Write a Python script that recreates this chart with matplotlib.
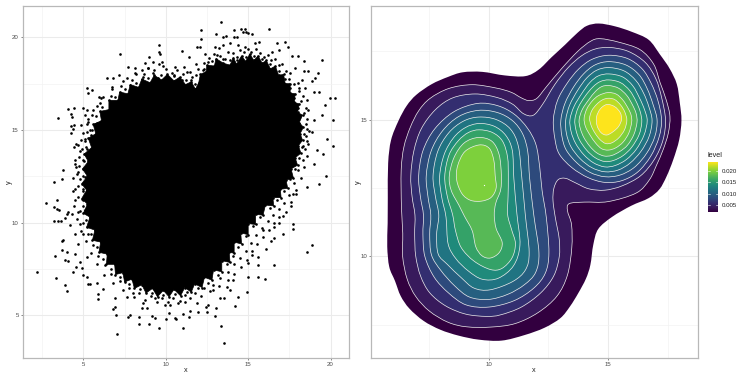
import numpy as np
import matplotlib
matplotlib.use('Agg')
import matplotlib.pyplot as plt
from matplotlib.path import Path
from matplotlib.patches import PathPatch, Polygon
from matplotlib.colors import LinearSegmentedColormap

plt.rcParams['font.family'] = ['Liberation Sans', 'DejaVu Sans']

# scatter: the solid black middle with its ragged edge, then the single points around it
core = [(13.9,18.5),(14.1,18.9),(14.3,18.55),(14.6,19.0),(14.85,18.7),(15.1,19.1),(15.35,18.75),(15.6,19.0),(15.85,18.6),(16.1,18.75),(16.35,18.3),(16.65,18.45),(16.85,17.95),(17.15,18.0),(17.25,17.5),(17.55,17.5),(17.55,17.0),(17.85,16.95),(17.8,16.5),(18.1,16.4),(18.0,15.95),(18.3,15.8),(18.1,15.4),(18.35,15.15),(18.15,14.8),(18.3,14.45),(18.05,14.15),(18.2,13.75),(17.85,13.5),(18.0,13.1),(17.6,12.9),(17.75,12.4),(17.3,12.3),(17.4,11.85),(16.95,11.8),(17.0,11.35),(16.5,11.35),(16.55,10.9),(16.05,10.95),(15.9,10.4),(15.45,10.45),(15.45,9.9),(15.0,9.95),(15.0,9.35),(14.55,9.45),(14.6,8.85),(14.15,8.95),(14.15,8.35),(13.85,8.4),(13.9,7.85),(13.4,7.95),(13.4,7.35),(12.9,7.45),(12.8,6.9),(12.35,7.05),(12.2,6.5),(11.75,6.7),(11.55,6.25),(11.15,6.5),(10.9,6.05),(10.5,6.4),(10.2,6.0),(9.85,6.35),(9.5,6.0),(9.2,6.45),(8.8,6.2),(8.55,6.65),(8.1,6.45),(7.95,6.95),(7.5,6.8),(7.4,7.3),(6.95,7.2),(6.9,7.75),(6.4,7.75),(6.45,8.3),(5.95,8.4),(6.05,8.95),(5.55,9.05),(5.7,9.6),(5.2,9.75),(5.4,10.3),(5.0,10.5),(5.25,11.0),(4.9,11.3),(5.2,11.75),(4.9,12.1),(5.25,12.5),(4.95,12.9),(5.3,13.3),(5.05,13.7),(5.5,14.05),(5.3,14.55),(5.75,14.8),(5.6,15.3),(6.1,15.5),(6.0,16.0),(6.55,16.1),(6.55,16.6),(7.1,16.6),(7.2,17.05),(7.7,16.95),(7.85,17.45),(8.35,17.3),(8.55,17.75),(9.05,17.55),(9.3,17.95),(9.75,17.7),(10.1,18.0),(10.5,17.65),(10.85,17.85),(11.2,17.45),(11.55,17.6),(11.8,17.2),(12.0,17.55),(12.1,18.0),(12.45,18.15),(12.5,18.5),(12.95,18.45),(13.05,18.85),(13.5,18.6)]

fringe = [(12.3,18.6),(12.6,18.9),(12.4,19.1),(12.9,19.1),(13.3,19.0),(13.6,18.85),(13.8,19.2),(14.1,19.15),(14.35,18.95),(14.5,19.3),(14.75,19.2),(15.0,19.35),(15.2,19.2),(15.45,19.35),(15.7,19.15),(15.95,18.95),(16.2,19.05),(16.4,18.75),(16.6,18.85),(16.85,18.5),(17.05,18.55),(17.3,18.2),(17.55,18.05),(17.5,17.75),(17.8,17.5),(18.0,17.55),(18.1,17.1),(18.3,16.85),(18.2,16.55),(18.5,16.2),(18.4,15.9),(18.6,15.6),(18.5,15.3),(18.7,14.95),(18.5,14.65),(18.6,14.4),(18.45,14.0),(18.55,13.6),(18.3,13.4),(18.4,13.0),(18.05,12.85),(18.2,12.4),(17.8,12.15),(17.9,11.75),(17.5,11.5),(17.6,11.1),(17.2,11.05),(17.3,10.6),(16.85,10.75),(16.9,10.3),(16.5,10.4),(16.55,10.0),(16.2,10.1),(16.25,9.6),(15.85,9.7),(15.9,9.2),(15.5,9.35),(15.55,8.85),(15.2,8.9),(15.25,8.45),(14.85,8.45),(14.9,8.0),(14.5,8.1),(14.55,7.6),(14.15,7.75),(14.15,7.25),(13.75,7.35),(13.75,6.9),(13.3,7.0),(13.25,6.6),(12.85,6.65),(12.7,6.3),(12.35,6.45),(12.15,6.05),(11.8,6.2),(11.5,5.95),(11.15,6.1),(10.85,5.75),(10.45,5.95),(10.15,5.7),(9.8,5.95),(9.45,5.7),(9.1,6.05),(8.75,5.85),(8.4,6.2),(8.05,6.0),(7.8,6.5),(7.4,6.35),(7.2,6.85),(6.8,6.75),(6.65,7.25),(6.25,7.2),(6.3,7.7),(5.85,7.75),(5.9,8.2),(5.45,8.35),(5.6,8.8),(5.15,9.0),(5.3,9.4),(4.85,9.55),(5.0,10.0),(4.6,10.2),(4.8,10.65),(4.45,10.9),(4.7,11.4),(4.35,11.7),(4.65,12.0),(4.35,12.4),(4.6,12.6),(4.75,13.05),(4.5,13.4),(4.8,13.85),(4.65,14.2),(5.1,14.4),(5.0,14.85),(5.4,15.0),(5.3,15.45),(5.75,15.75),(5.6,16.1),(6.15,16.25),(6.1,16.7),(6.65,16.85),(6.75,17.2),(7.3,17.35),(7.4,17.65),(7.95,17.7),(8.15,18.05),(8.65,18.0),(8.9,18.35),(9.3,18.25),(9.6,18.55),(10.0,18.3),(10.4,18.1),(10.7,18.25),(11.05,18.0),(11.3,18.15),(11.6,17.85),(11.85,17.95)]

edge_pts = [(14.3,18.8),(14.85,18.95),(15.35,19.0),(15.85,18.85),(16.35,18.55),(16.85,18.2),(17.25,17.75),(17.55,17.25),(17.8,16.75),(18.0,16.2),(18.1,15.65),(18.4,14.8),(18.3,14.15),(18.1,13.5),(17.85,12.9),(17.55,12.35),(17.2,11.7),(16.75,11.2),(16.3,10.8),(15.7,10.3),(15.3,9.8),(14.85,9.3),(14.4,8.7),(14.1,8.2),(13.7,7.75),(13.15,7.2),(12.55,6.75),(11.95,6.45),(11.3,6.25),(10.55,6.15),(9.85,6.1),(9.15,6.2),(8.45,6.4),(7.75,6.7),(7.2,7.05),(6.65,7.5),(6.2,8.05),(5.8,8.7),(5.45,9.4),(5.15,10.15),(5.0,10.9),(4.95,11.7),(5.0,12.5),(5.05,13.3),(5.2,14.0),(5.45,14.75),(5.8,15.4),(6.25,15.95),(6.9,16.8),(7.55,17.2),(8.2,17.55),(8.95,17.8),(9.7,17.95),(10.5,17.9),(11.2,17.7),(11.75,17.5),(12.3,18.3),(12.8,18.7),(13.5,18.85),(13.9,18.8)]

pts_x = [13.36, 14.15, 14.55, 14.82, 14.88, 14.68, 16.26, 12.11, 12.15, 13.06, 13.46, 13.64, 14.15, 14.35, 15.26, 15.02, 9.57, 11.88, 12.09, 10.97, 7.23, 9.61, 9.68, 8.99, 11.44,
         13.0, 13.24, 13.1, 13.5, 13.91, 14.41, 14.81, 15.63, 15.43, 16.74, 17.25, 17.39, 16.9, 16.44, 17.65, 18.0, 18.36, 19.47, 8.74, 9.25, 9.76, 9.86, 10.57, 11.13, 11.82, 7.69, 8.14, 8.54, 8.95,
         11.98, 12.59, 12.29, 6.42, 6.78, 7.19, 7.67, 8.2, 8.64, 9.2, 9.54, 10.47, 11.48, 11.52, 10.97, 17.85, 18.4, 18.66, 19.21, 19.07, 18.87, 19.27, 19.0,
         19.98, 20.24, 19.68, 19.47, 20.12, 18.97, 19.78, 20.14, 19.17, 19.53, 19.72, 19.27, 18.6, 18.97, 18.66, 18.26, 18.56, 18.87, 18.66, 18.06, 18.46, 18.56, 18.26,
         5.24, 5.51, 5.3, 5.97, 6.21, 6.72, 6.01, 5.81, 4.05, 4.43, 4.96, 5.24, 4.23, 4.33, 3.48, 5.1, 5.3, 5.55, 4.23, 4.43, 4.35, 4.27, 4.86, 5.24, 5.71,
         4.55, 4.43, 4.84, 5.1, 5.24, 5.51, 4.9, 5.16, 4.76, 5.24, 5.0, 4.49, 4.55, 4.7, 3.79, 3.68, 3.22, 4.49, 4.8, 5.1, 5.3, 5.0, 5.4,
         2.71, 3.24, 3.42, 3.52, 3.38, 3.24, 3.44, 3.66, 4.09, 3.99, 4.29, 3.89, 4.19, 3.79, 3.7, 3.28, 3.68, 3.99, 3.91, 4.09, 4.55, 4.39, 2.21, 3.36, 3.91, 4.03, 4.9, 5.0, 5.26, 5.4, 5.91, 5.91, 6.21,
         6.92, 6.78, 6.96, 7.71, 7.83, 8.36, 8.38, 8.99, 9.57, 7.02, 9.15, 9.33, 10.04, 10.57, 10.6, 11.07, 10.22, 11.07, 11.44, 11.98, 12.49, 13.0, 13.36, 13.54, 13.04, 12.43, 11.48, 14.23, 14.41, 14.92, 13.54, 13.3, 13.91,
         16.03, 15.57, 16.58, 15.59, 15.02, 18.89, 18.54, 17.09, 16.58, 16.38, 16.08, 15.59, 17.75, 17.75, 16.88, 17.61, 17.11, 17.75, 17.89, 16.54, 15.93, 15.22, 15.02, 14.11, 13.7, 12.89,
         7.63, 8.04, 8.64, 8.84, 8.54, 9.96, 10.26, 10.77, 11.17, 11.88, 12.59, 9.35, 6.92, 5.81, 5.2, 4.8, 4.49, 5.2, 4.7, 5.0, 4.49, 4.8, 4.7, 5.1, 5.0, 4.49]
pts_y = [20.81, 20.40, 20.43, 20.43, 20.27, 20.29, 20.43, 20.40, 19.93, 20.20, 20.04, 20.07, 20.04, 20.04, 20.18, 20.22, 19.60, 19.49, 19.49, 19.26, 19.08, 19.22, 19.08, 18.95, 18.95,
         19.49, 19.40, 19.04, 19.58, 19.68, 19.58, 19.49, 19.77, 19.68, 19.68, 19.73, 19.49, 19.31, 19.22, 18.99, 18.99, 18.74, 18.77, 18.59, 18.65, 18.68, 18.45, 18.41, 18.41, 18.54, 18.41, 18.32, 18.23, 18.32,
         18.27, 18.68, 18.23, 17.78, 17.83, 17.94, 17.78, 18.01, 17.87, 18.09, 17.78, 17.96, 18.14, 17.69, 17.69, 18.32, 18.19, 18.18, 18.09, 17.83, 17.65, 17.06, 17.06,
         16.7, 16.7, 16.34, 15.79, 15.52, 15.52, 14.53, 14.13, 13.9, 13.72, 12.51, 12.06, 11.95, 13.18, 14.26, 14.08, 15.07, 14.89, 16.06, 17.24, 17.24, 16.61, 17.69,
         17.24, 17.18, 17.0, 16.79, 16.79, 17.33, 16.43, 16.28, 16.12, 16.21, 16.21, 16.06, 15.88, 15.7, 15.65, 15.79, 15.61, 15.79, 15.23, 15.25, 15.07, 14.84, 15.25, 15.34, 15.34,
         14.26, 14.08, 14.44, 14.53, 14.89, 14.98, 13.99, 14.08, 13.54, 13.72, 13.36, 13.18, 13.0, 12.73, 12.85, 12.36, 12.18, 11.79, 12.36, 12.45, 12.09, 11.82, 12.91,
         11.06, 10.84, 10.72, 10.66, 11.24, 10.09, 10.09, 10.09, 10.57, 10.48, 10.48, 10.27, 9.86, 9.09, 9.01, 8.21, 8.51, 8.42, 8.01, 7.94, 7.62, 7.35, 7.33, 6.99, 6.63, 6.33, 7.53, 7.17, 6.68, 6.68, 5.86, 6.15, 6.42,
         5.43, 5.34, 5.04, 4.89, 5.0, 4.91, 4.52, 4.52, 4.34, 4.0, 4.98, 4.84, 4.82, 4.84, 4.78, 4.32, 5.14, 5.05, 4.93, 5.16, 5.16, 4.96, 4.44, 3.53, 5.38, 5.47, 5.25, 5.5, 6.0, 6.25, 5.91, 5.95, 6.36,
         6.95, 7.08, 7.71, 7.71, 7.08, 8.82, 8.39, 9.41, 9.18, 9.0, 8.6, 8.15, 9.95, 9.68, 10.0, 10.91, 10.34, 11.56, 11.56, 9.77, 9.59, 8.24, 7.8, 6.9, 6.54, 6.36,
         6.0, 6.18, 5.65, 5.38, 5.38, 5.56, 5.56, 5.65, 5.73, 5.65, 5.56, 5.91, 5.91, 6.72, 7.08, 7.89, 8.33, 8.15, 8.87, 9.41, 9.41, 9.95, 10.57, 10.66, 11.2, 11.2]

# density contours, one list per level
c002 = [(14.58,18.55),(15.28,18.43),(15.97,18.22),(16.74,17.98),(17.16,17.37),(17.58,16.88),(17.90,16.33),(17.99,15.60),(18.09,14.99),(17.99,14.26),(17.72,13.52),(17.44,12.91),(17.16,12.43),(16.74,12.12),(15.97,11.88),(15.14,11.45),(14.51,11.02),(14.37,10.48),(14.26,9.62),(14.09,9.20),(13.75,8.65),(13.40,8.16),(13.05,7.73),(12.35,7.37),(11.52,7.12),(10.54,6.87),(9.57,6.94),(8.73,7.09),(7.97,7.30),(7.27,7.61),(6.64,8.10),(6.30,8.52),(6.09,9.13),(5.81,9.56),(5.74,10.35),(5.78,11.21),(5.78,12.06),(5.78,13.52),(5.88,14.26),(6.23,14.99),(6.57,15.54),(6.92,15.90),(7.62,16.33),(8.31,16.57),(8.87,16.76),(9.71,16.78),(10.68,16.60),(11.59,16.55),(12.08,16.79),(12.63,17.30),(13.19,17.73),(13.75,18.22),(14.09,18.46)]
c004 = [(14.58,18.0),(15.42,17.85),(16.39,17.61),(16.95,17.06),(17.16,16.33),(17.44,15.72),(17.62,15.11),(17.53,14.50),(17.30,13.89),(17.02,13.34),(16.74,12.79),(16.32,12.30),(14.93,11.94),(13.96,12.00),(13.26,11.96),(13.26,11.70),(13.50,11.21),(13.50,10.35),(13.33,9.26),(12.91,8.52),(12.08,7.91),(11.10,7.49),(10.13,7.40),(9.01,7.40),(8.31,7.55),(7.48,7.98),(6.92,8.52),(6.57,9.13),(6.36,9.99),(6.43,10.84),(6.34,11.70),(6.32,13.28),(6.43,14.01),(6.71,14.74),(7.06,15.35),(7.48,15.78),(8.31,16.18),(9.29,16.33),(10.40,16.15),(10.96,16.02),(11.38,15.78),(11.66,15.68),(12.01,15.72),(12.35,16.15),(13.05,16.88),(13.75,17.55),(14.30,17.91)]
c006 = [(15.00,17.67),(15.84,17.55),(16.60,17.12),(17.02,16.51),(17.23,15.84),(17.44,14.99),(17.33,14.26),(16.95,13.52),(16.39,12.91),(15.56,12.55),(14.86,12.39),(14.16,12.44),(13.61,12.70),(13.19,12.89),(12.88,12.85),(12.70,12.49),(12.67,12.06),(12.77,11.45),(12.98,10.60),(12.98,10.00),(12.77,9.26),(12.21,8.65),(11.38,8.10),(10.40,7.82),(9.99,7.79),(9.01,7.85),(8.18,8.16),(7.48,8.65),(7.13,9.26),(6.92,10.00),(6.89,10.84),(6.95,11.51),(6.78,12.18),(6.71,12.91),(6.85,13.89),(7.13,14.68),(7.76,15.41),(8.45,15.84),(9.43,15.99),(10.40,15.82),(11.03,15.60),(11.45,15.17),(11.87,15.09),(12.21,15.48),(12.77,16.33),(13.33,16.94),(13.89,17.37),(14.44,17.61)]
c008_left = [(9.57,15.66),(10.40,15.54),(11.10,15.23),(11.66,14.68),(12.01,14.13),(12.14,13.28),(12.21,12.43),(12.42,11.51),(12.56,10.00),(12.42,9.38),(11.94,8.83),(11.10,8.34),(9.99,8.10),(9.01,8.16),(8.31,8.65),(7.69,9.20),(7.27,10.00),(7.23,10.84),(7.31,11.51),(7.13,12.18),(7.03,12.91),(7.20,13.89),(7.69,14.68),(8.52,15.35)]
c008_right = [(15.00,17.40),(15.84,17.28),(16.46,16.88),(16.81,16.33),(17.09,15.72),(17.27,14.99),(17.16,14.38),(16.81,13.65),(16.25,13.04),(15.56,12.73),(14.86,12.67),(14.16,12.85),(13.47,13.22),(12.88,13.74),(12.77,14.26),(12.66,14.99),(12.84,15.72),(13.26,16.33),(13.75,16.88),(14.30,17.24)]
c010_left = [(9.57,15.39),(10.40,15.29),(11.03,14.99),(11.45,14.50),(11.66,13.89),(11.69,12.91),(11.87,11.51),(12.17,10.00),(12.01,9.38),(11.52,8.95),(10.82,8.59),(9.99,8.38),(9.15,8.46),(8.59,8.89),(7.97,9.50),(7.55,10.00),(7.51,10.84),(7.62,11.51),(7.45,12.18),(7.34,12.91),(7.55,13.89),(8.04,14.62),(8.73,15.17)]
c010_right = [(15.00,17.16),(15.77,17.04),(16.32,16.67),(16.64,16.15),(16.88,15.54),(17.09,14.99),(16.98,14.38),(16.64,13.77),(16.11,13.22),(15.49,12.94),(14.86,12.88),(14.23,13.04),(13.68,13.40),(13.19,13.89),(13.05,14.38),(12.98,14.99),(13.16,15.60),(13.54,16.21),(13.96,16.70),(14.44,17.04)]
c012_left = [(9.57,15.13),(10.33,15.05),(10.96,14.68),(11.27,14.13),(11.38,12.91),(11.52,11.51),(11.75,10.00),(11.59,9.50),(11.10,9.07),(9.99,8.71),(9.36,8.79),(8.87,9.20),(8.25,9.74),(7.83,10.00),(7.79,10.84),(7.97,11.51),(7.76,12.18),(7.62,12.91),(7.83,13.89),(8.31,14.56),(8.94,14.99)]
c012_right = [(15.00,16.94),(15.70,16.82),(16.18,16.45),(16.50,15.96),(16.70,15.48),(16.88,14.99),(16.74,14.38),(16.39,13.83),(15.91,13.38),(15.42,13.13),(14.86,13.06),(14.30,13.22),(13.82,13.55),(13.40,14.01),(13.23,14.50),(13.19,14.99),(13.36,15.54),(13.72,16.09),(14.09,16.55),(14.51,16.84)]
c014_left = [(9.57,14.90),(10.26,14.80),(10.75,14.44),(11.03,13.95),(11.03,12.91),(11.17,11.51),(11.38,10.35),(11.10,9.62),(10.40,9.13),(9.71,9.11),(9.15,9.44),(8.59,9.93),(8.25,10.35),(8.25,11.51),(8.01,12.18),(7.90,12.91),(8.11,13.77),(8.52,14.38),(9.01,14.74)]
c014_right = [(15.00,16.70),(15.63,16.60),(16.04,16.27),(16.32,15.78),(16.53,15.35),(16.67,14.99),(16.53,14.44),(16.18,13.89),(15.77,13.52),(15.28,13.30),(14.86,13.24),(14.37,13.40),(13.96,13.71),(13.61,14.13),(13.43,14.56),(13.36,14.99),(13.54,15.48),(13.89,15.96),(14.23,16.39),(14.58,16.63)]
c016_left = [(9.57,14.66),(10.19,14.56),(10.61,14.26),(10.82,13.65),(10.82,12.91),(10.82,12.18),(10.75,11.51),(10.96,10.96),(11.17,10.48),(11.03,9.93),(10.54,9.50),(10.13,9.46),(9.36,9.80),(8.80,10.29),(8.59,10.96),(8.52,11.51),(8.25,12.18),(8.11,12.91),(8.31,13.77),(8.73,14.26),(9.15,14.56)]
c016_right = [(15.00,16.48),(15.53,16.39),(15.91,16.09),(16.18,15.66),(16.35,15.29),(16.43,14.93),(16.32,14.44),(15.97,13.95),(15.63,13.67),(15.21,13.49),(14.86,13.44),(14.44,13.59),(14.09,13.87),(13.77,14.26),(13.64,14.62),(13.57,14.99),(13.72,15.45),(14.03,15.87),(14.37,16.23),(14.65,16.41)]
c018_left = [(9.57,14.40),(10.19,14.26),(10.47,13.77),(10.54,12.91),(10.54,12.43),(10.26,11.94),(10.22,11.51),(10.26,11.02),(10.65,10.48),(10.47,10.11),(10.06,9.89),(9.71,9.99),(9.43,10.29),(9.36,10.96),(8.94,11.51),(8.80,11.82),(8.38,12.43),(8.31,12.91),(8.52,13.65),(8.94,14.20)]
c018_right = [(15.00,16.27),(15.45,16.18),(15.79,15.90),(16.02,15.54),(16.18,15.23),(16.23,14.93),(16.09,14.44),(15.81,14.04),(15.49,13.83),(15.14,13.67),(14.83,13.65),(14.51,13.77),(14.23,14.01),(13.96,14.35),(13.82,14.68),(13.75,14.99),(13.89,15.38),(14.19,15.74),(14.47,16.06),(14.72,16.23)]
c020_left = [(9.64,14.13),(10.06,14.01),(10.24,13.52),(10.26,12.91),(10.36,12.49),(10.13,12.12),(9.71,12.00),(9.22,12.02),(8.87,12.24),(8.62,12.79),(8.66,13.28),(8.94,13.89)]
c020_right = [(15.00,16.02),(15.35,15.96),(15.63,15.72),(15.84,15.41),(15.97,15.17),(16.00,14.93),(15.88,14.50),(15.63,14.16),(15.31,13.95),(15.00,13.87),(14.72,13.91),(14.47,14.13),(14.23,14.44),(14.03,14.74),(13.96,15.05),(14.09,15.41),(14.33,15.70),(14.58,15.90)]
c022 = [(15.00,15.80),(15.28,15.76),(15.53,15.54),(15.70,15.29),(15.81,14.99),(15.70,14.62),(15.45,14.32),(15.14,14.13),(14.89,14.10),(14.65,14.26),(14.44,14.50),(14.28,14.77),(14.19,15.05),(14.30,15.35),(14.51,15.57),(14.75,15.74)]
c024 = [(14.93,15.60),(15.28,15.50),(15.53,15.26),(15.58,15.01),(15.45,14.74),(15.21,14.56),(14.93,14.40),(14.69,14.50),(14.51,14.77),(14.48,15.11),(14.65,15.41)]

levels = [0.002, 0.004, 0.006, 0.008, 0.010, 0.012, 0.014, 0.016, 0.018, 0.020, 0.022, 0.024]
level_rings = [[c002], [c004], [c006], [c008_left, c008_right], [c010_left, c010_right], [c012_left, c012_right],
               [c014_left, c014_right], [c016_left, c016_right], [c018_left, c018_right], [c020_left, c020_right], [c022], [c024]]
band_colors = ['#32003f', '#381a5c', '#332e70', '#2d4a7c', '#265f80', '#207482', '#1f8a7b', '#34a268', '#57b956', '#7dd03c', '#bcdc26', '#fde41c']
speck_x = [9.8]
speck_y = [12.6]

legend_ticks = [0.005, 0.010, 0.015, 0.020]
legend_labels = ['0.005', '0.010', '0.015', '0.020']


def smooth_path(ring):
    # closed catmull-rom through the read points, a light pass first to take the reading wobble out
    p = np.array(ring)
    p = 0.15*np.roll(p, 1, axis=0) + 0.7*p + 0.15*np.roll(p, -1, axis=0)
    n = len(p)
    verts = [p[0]]
    codes = [Path.MOVETO]
    for i in range(n):
        p0, p1, p2, p3 = p[i-1], p[i], p[(i+1) % n], p[(i+2) % n]
        verts += [p1 + (p2-p0)/6, p2 - (p3-p1)/6, p2]
        codes += [Path.CURVE4]*3
    return Path(verts, codes)


def style_panel(ax, xmaj, xmin, ymaj, ymin):
    ax.set_xticks(xmaj)
    ax.set_xticks(xmin, minor=True)
    ax.set_yticks(ymaj)
    ax.set_yticks(ymin, minor=True)
    ax.grid(which='major', color='#ebebeb', lw=0.75)
    ax.grid(which='minor', color='#f2f2f2', lw=0.45)
    ax.set_axisbelow(True)
    ax.tick_params(which='major', length=1.6, width=0.5, color='#555555', labelsize=4.4, labelcolor='#4d4d4d', pad=1.2)
    ax.tick_params(which='minor', length=0)
    for s in ax.spines.values():
        s.set_color('#b8b8b8')
        s.set_linewidth(0.9)


W, H = 743, 380
fig = plt.figure(figsize=(W/100, H/100), dpi=100)

# left panel
ax1 = fig.add_axes([22.7/W, (H-358.3)/H, 326/W, 352.3/H])
ax1.set_xlim(1.32, 21.1)
ax1.set_ylim(2.68, 21.69)
style_panel(ax1, [5, 10, 15, 20], [2.5, 7.5, 12.5, 17.5], [5, 10, 15, 20], [7.5, 12.5, 17.5])
ax1.add_patch(Polygon(np.array(core), closed=True, fc='black', ec='black', lw=0.5, zorder=3))
ax1.scatter(pts_x, pts_y, s=3.6, c='black', linewidths=0, zorder=3)
for group in [fringe, edge_pts, core]:
    ax1.scatter([p[0] for p in group], [p[1] for p in group], s=3.6, c='black', linewidths=0, zorder=3)

# right panel
ax2 = fig.add_axes([371.3/W, (H-358.3)/H, 326.4/W, 352.3/H])
ax2.set_xlim(5.09, 18.74)
ax2.set_ylim(6.27, 19.16)
style_panel(ax2, [10, 15], [7.5, 12.5, 17.5], [10, 15], [7.5, 12.5, 17.5])
for lev, rings, col in zip(levels, level_rings, band_colors):
    for ring in rings:
        edge = '#eeeeee' if lev > 0.002 else col
        ax2.add_patch(PathPatch(smooth_path(ring), fc=col, ec=edge, lw=0.5 if lev > 0.002 else 0, zorder=3))
ax2.scatter(speck_x, speck_y, s=0.8, c='white', linewidths=0, zorder=4)

fig.text(185.7/W, 1-370/H, 'x', fontsize=5.2, color='#222222', ha='center', va='center')
fig.text(534/W, 1-370/H, 'x', fontsize=5.2, color='#222222', ha='center', va='center')
fig.text(9.5/W, 1-182/H, 'y', fontsize=5.2, color='#222222', ha='center', va='center', rotation=90)
fig.text(358.5/W, 1-182/H, 'y', fontsize=5.2, color='#222222', ha='center', va='center', rotation=90)

# colour legend
cax = fig.add_axes([707.7/W, (H-211.7)/H, 10/W, 50/H])
cmap = LinearSegmentedColormap.from_list('lev', band_colors)
grad = np.linspace(levels[0], levels[-1], 256).reshape(-1, 1)
cax.imshow(grad, origin='lower', aspect='auto', cmap=cmap, extent=[0, 1, levels[0], levels[-1]])
cax.set_xticks([])
cax.yaxis.tick_right()
cax.set_yticks(legend_ticks)
cax.set_yticklabels(legend_labels)
cax.tick_params(axis='y', length=0, labelsize=4.4, labelcolor='#222222', pad=3)
for s in cax.spines.values():
    s.set_visible(False)
for t in legend_ticks:
    cax.plot([0, 0.2], [t, t], color='white', lw=0.4)
    cax.plot([0.8, 1], [t, t], color='white', lw=0.4)
cax.set_xlim(0, 1)
cax.set_ylim(levels[0], levels[-1])
fig.text(707.7/W, 1-155.5/H, 'level', fontsize=5.2, color='#222222', ha='left', va='center')

fig.savefig('out.png', dpi=100)
